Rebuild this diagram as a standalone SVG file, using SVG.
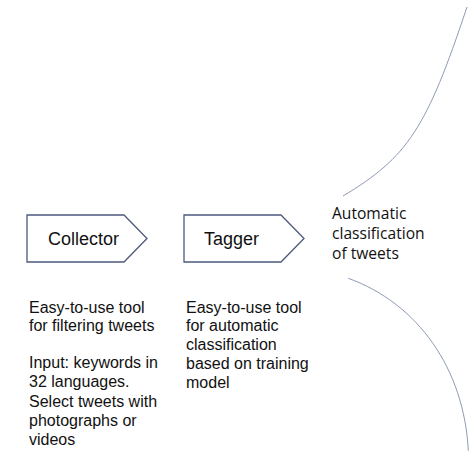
<svg xmlns="http://www.w3.org/2000/svg" width="474" height="474" viewBox="0 0 474 474">
<style>
.box{fill:#ffffff;stroke:#4d5a7c;stroke-width:1.3;stroke-linejoin:miter}
.lbl{font-family:"Liberation Sans",Arial,sans-serif;font-size:18px;fill:#111}
.desc{font-family:"Liberation Sans",Arial,sans-serif;font-size:16px;fill:#111}
.out{font-family:"Open Sans","Noto Sans",sans-serif;font-size:15.6px;fill:#111}
.arc{fill:none;stroke:#8e9ab6;stroke-width:1}
</style>
<rect width="474" height="474" fill="#ffffff"/>
<g id="collector">
<polygon class="box" points="27,215 124,215 147,238.5 124,262 27,262"/>
<text class="lbl" x="48" y="245">Collector</text>
</g>
<g id="tagger">
<polygon class="box" points="184,215 281,215 304,238.5 281,262 184,262"/>
<text class="lbl" x="204" y="245">Tagger</text>
</g>
<g id="collector-desc">
<text class="desc" x="29" y="312.5">Easy-to-use tool</text>
<text class="desc" x="29" y="331">for filtering tweets</text>
<text class="desc" x="29" y="367.5">Input: keywords in</text>
<text class="desc" x="29" y="387">32 languages.</text>
<text class="desc" x="29" y="406.5">Select tweets with</text>
<text class="desc" x="29" y="426">photographs or</text>
<text class="desc" x="29" y="445">videos</text>
</g>
<g id="tagger-desc">
<text class="desc" x="186" y="312.5">Easy-to-use tool</text>
<text class="desc" x="186" y="331">for automatic</text>
<text class="desc" x="186" y="350">classification</text>
<text class="desc" x="186" y="368.5">based on training</text>
<text class="desc" x="186" y="387.5">model</text>
</g>
<g id="output">
<text class="out" x="332" y="219">Automatic</text>
<text class="out" x="332" y="239.3">classification</text>
<text class="out" x="332" y="259.3">of tweets</text>
</g>
<g id="connectors">
<path class="arc" d="M467,7 C426.4,128.8 407.8,157.1 343,196"/>
<path class="arc" d="M348.3,278.3 C418,303.5 464.2,369 468.3,450.7"/>
</g>
</svg>
